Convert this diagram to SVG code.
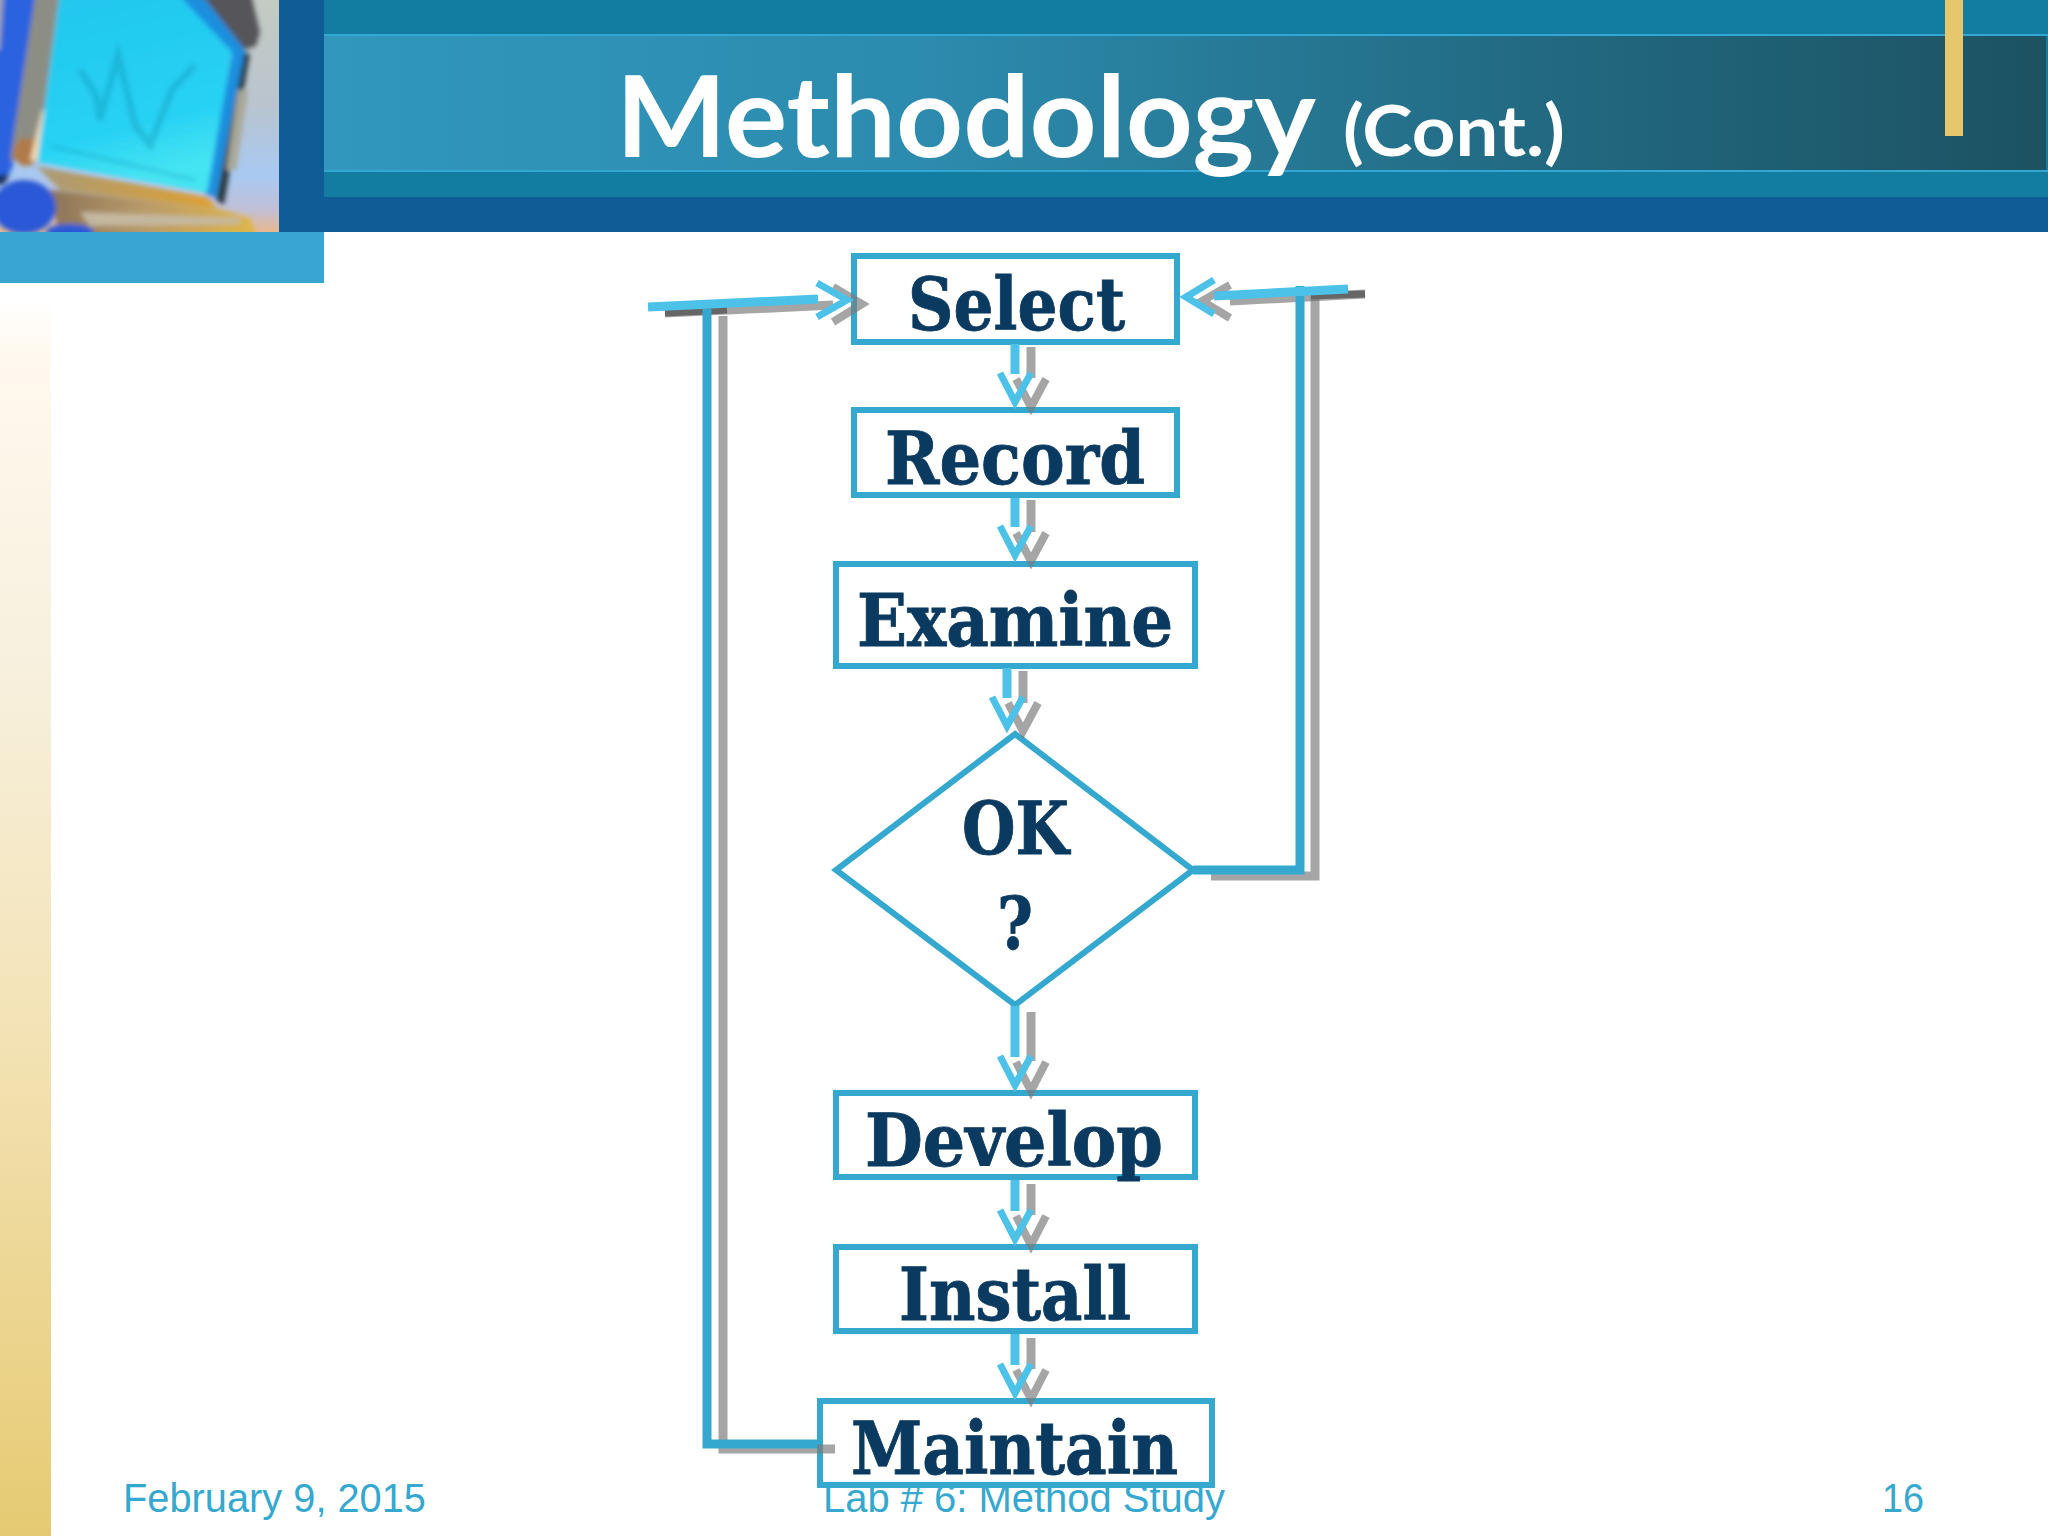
<svg xmlns="http://www.w3.org/2000/svg" width="2048" height="1536" viewBox="0 0 2048 1536">
<style>
.box{fill:#fff;stroke:#35a8d0;stroke-width:6}
.lbl{font-family:"DejaVu Serif Condensed","DejaVu Serif",serif;font-weight:700;font-size:73px;fill:#0a3a60;stroke:#0a3a60;stroke-width:.8}
.foot{font-family:"Liberation Sans",sans-serif;font-size:40px;fill:#35a8d0}
.ttl{font-family:"Lato",sans-serif;font-weight:700;fill:#fff}
.s{fill:none;stroke:#7a7a7a;stroke-opacity:.68;stroke-width:9}
.sh{fill:none;stroke:#7a7a7a;stroke-opacity:.68;stroke-width:8}
.b{fill:none;stroke:#4cc2e8;stroke-width:9}
.bh{fill:none;stroke:#4cc2e8;stroke-width:7}
.b2{fill:none;stroke:#35a8d0;stroke-width:9}
</style>
<defs>
<linearGradient id="panel" x1="0" x2="1" y1="0" y2="0"><stop offset="0" stop-color="#3197bd"/><stop offset=".35" stop-color="#2c8bae"/><stop offset=".7" stop-color="#226a82"/><stop offset="1" stop-color="#1c5262"/></linearGradient>
<linearGradient id="strip" x1="0" x2="0" y1="0" y2="1"><stop offset="0" stop-color="#fff"/><stop offset=".04" stop-color="#fff9f0"/><stop offset=".3" stop-color="#f7f0dd"/><stop offset=".6" stop-color="#f3e2b4"/><stop offset="1" stop-color="#e6ca72"/></linearGradient>
<linearGradient id="sky" x1="0" x2="0" y1="0" y2="1"><stop offset="0" stop-color="#c4cbc2"/><stop offset=".45" stop-color="#b9c4cf"/><stop offset=".75" stop-color="#a9c9f1"/><stop offset=".9" stop-color="#c0c0d8"/><stop offset="1" stop-color="#e8b890"/></linearGradient>
<linearGradient id="screen" x1="0" x2="0.25" y1="0" y2="1"><stop offset="0" stop-color="#20c6ee"/><stop offset=".75" stop-color="#28d2f4"/><stop offset="1" stop-color="#45e4f2"/></linearGradient>
<linearGradient id="gold" x1="0" x2="1" y1="0" y2="0"><stop offset="0" stop-color="#8c7458"/><stop offset=".45" stop-color="#b89a68"/><stop offset="1" stop-color="#e0b848"/></linearGradient>
<linearGradient id="rimg" x1="0" x2="1" y1="0" y2="0"><stop offset="0" stop-color="#a89a78"/><stop offset="1" stop-color="#e0a030"/></linearGradient>
<filter id="blur" x="-5%" y="-5%" width="110%" height="110%"><feGaussianBlur stdDeviation="2.6"/></filter>
<clipPath id="pic"><rect x="0" y="0" width="279" height="232"/></clipPath>
</defs>
<rect width="2048" height="1536" fill="#fff"/>
<rect x="0" y="300" width="51" height="1236" fill="url(#strip)"/>
<g id="header">
<rect x="0" y="0" width="2048" height="232" fill="#0f5c96"/>
<rect x="324" y="0" width="1724" height="197" fill="#137ca1"/>
<rect x="324" y="35" width="1722" height="136" fill="url(#panel)"/>
<rect x="324" y="34" width="1724" height="2" fill="#33a6d1"/>
<rect x="324" y="170" width="1724" height="2" fill="#33a6d1"/>
<rect x="1945" y="0" width="18" height="136" fill="#e6c76c"/>
<rect x="0" y="232" width="324" height="51" fill="#38a6d0"/>
</g>
<g id="laptop" clip-path="url(#pic)">
<rect width="279" height="232" fill="url(#sky)"/>
<g filter="url(#blur)">
<polygon points="-10,-10 36,-10 12,170 -10,190" fill="#2a62e0"/>
<polygon points="-10,-10 4,-10 0,50 -10,50" fill="#a0a4b0"/>
<polygon points="36,-10 66,-10 35,164 10,160" fill="#8c8e84"/>
<ellipse cx="26" cy="152" rx="12" ry="14" fill="#b07a48"/>
<polygon points="42,110 50,110 38,162 30,160" fill="#f4d8b0"/>
<polygon points="192,-10 250,-10 260,32 256,46 244,50" fill="#55555a"/>
<polygon points="244,52 250,54 224,205 216,200" fill="#2b3a40"/>
<polygon points="238,90 248,90 236,170 226,170" fill="#a8a898"/>
<polygon points="174,-10 198,-10 245,50 216,198 204,194 232,55" fill="#1b8ede"/>
<polygon points="60,-10 174,-10 232,52 207,193 37,162" fill="url(#screen)"/>
<polygon points="36,166 208,197 216,208 60,190" fill="url(#rimg)"/>
<polygon points="50,190 216,208 250,218 258,240 60,240" fill="url(#gold)"/>
<polygon points="80,212 240,218 240,224 90,226" fill="#c4b8a0"/>
<ellipse cx="24" cy="207" rx="32" ry="27" fill="#2a58d8"/>
<ellipse cx="70" cy="232" rx="24" ry="8" fill="#2a58d8"/>
<polygon points="-10,176 10,174 4,184 -10,186" fill="#18305c"/>
<path d="M80 70L96 95 L100 120 L118 55 L135 125 L150 145 L172 90 L195 65" fill="none" stroke="#1596b8" stroke-width="7" opacity=".4"/>
<path d="M50 146 L195 180" fill="none" stroke="#10a0c0" stroke-width="2" opacity=".7"/>
</g>
</g>
<g id="title">
<text class="ttl" x="616" y="157" font-size="113" textLength="700" lengthAdjust="spacingAndGlyphs">Methodology</text>
<text class="ttl" x="1343" y="156" font-size="70" textLength="222" lengthAdjust="spacingAndGlyphs">(Cont.)</text>
</g>
<g id="n-select"><rect class="box" x="854" y="256" width="323" height="86"/><text class="lbl" x="908" y="330" textLength="217" lengthAdjust="spacingAndGlyphs">Select</text></g>
<g id="n-record"><rect class="box" x="854" y="410" width="323" height="85"/><text class="lbl" x="885" y="484" textLength="260" lengthAdjust="spacingAndGlyphs">Record</text></g>
<g id="n-examine"><rect class="box" x="836" y="564" width="359" height="102"/><text class="lbl" x="857" y="646" textLength="316" lengthAdjust="spacingAndGlyphs">Examine</text></g>
<g id="n-ok"><polygon class="box" points="1015,734 1193,870 1015,1005 836,870"/><text class="lbl" x="962" y="854" textLength="107" lengthAdjust="spacingAndGlyphs">OK</text><text class="lbl" x="997" y="949" textLength="36" lengthAdjust="spacingAndGlyphs">?</text></g>
<g id="n-develop"><rect class="box" x="836" y="1093" width="359" height="84"/><text class="lbl" x="865" y="1166" textLength="298" lengthAdjust="spacingAndGlyphs">Develop</text></g>
<g id="n-install"><rect class="box" x="836" y="1247" width="359" height="84"/><text class="lbl" x="899" y="1320" textLength="232" lengthAdjust="spacingAndGlyphs">Install</text></g>
<g id="n-maintain"><rect class="box" x="820" y="1401" width="392" height="84"/><text class="lbl" x="851" y="1474" textLength="327" lengthAdjust="spacingAndGlyphs">Maintain</text></g>
<g id="connectors">
<g id="shadows">
<path class="s" d="M1031 347V378"/><path class="sh" d="M1016 379L1031 407L1046 379"/>
<path class="s" d="M1031 500V532"/><path class="sh" d="M1016 533L1031 561L1046 533"/>
<path class="s" d="M1023 671V703"/><path class="sh" d="M1008 703L1023 731L1038 703"/>
<path class="s" d="M1031 1012V1061"/><path class="sh" d="M1016 1062L1031 1091L1046 1062"/>
<path class="s" d="M1031 1184V1215"/><path class="sh" d="M1016 1216L1031 1245L1046 1216"/>
<path class="s" d="M1031 1338V1369"/><path class="sh" d="M1016 1370L1031 1399L1046 1370"/>
<path class="s" d="M835 1449H723V316"/>
<path class="s" d="M665 313L833 305"/><path class="sh" d="M833 287L862 304L833 322"/>
<path class="s" d="M1211 876H1315V296"/>
<path class="s" d="M1365 294L1230 301"/><path class="sh" d="M1230 285L1202 301L1230 318"/>
<path fill="none" stroke="#666" stroke-width="7" d="M665 313L727 310M1311 296L1365 294"/>
</g>
<path class="b2" d="M817 1444H707V309"/>
<path class="b2" d="M1193 870H1300V286"/>
<path class="b" d="M648 307L818 299"/><path class="bh" d="M817 283L847 300L817 317"/>
<path class="b" d="M1348 289L1214 296"/><path class="bh" d="M1214 280L1186 297L1214 314"/>
<path class="b" d="M1015 344V374"/><path class="bh" d="M1000 373L1015 402L1031 373"/>
<path class="b" d="M1015 498V527"/><path class="bh" d="M1000 526L1015 555L1031 526"/>
<path class="b" d="M1007 668V698"/><path class="bh" d="M992 697L1007 726L1023 697"/>
<path class="b" d="M1015 1006V1057"/><path class="bh" d="M1000 1056L1015 1085L1031 1056"/>
<path class="b" d="M1015 1180V1211"/><path class="bh" d="M1000 1210L1015 1239L1031 1210"/>
<path class="b" d="M1015 1334V1365"/><path class="bh" d="M1000 1364L1015 1393L1031 1364"/>
</g>
<g id="footer">
<text class="foot" x="123" y="1512" textLength="303" lengthAdjust="spacingAndGlyphs">February 9, 2015</text>
<text class="foot" x="823" y="1512" textLength="402" lengthAdjust="spacingAndGlyphs">Lab # 6: Method Study</text>
<text class="foot" x="1882" y="1512" textLength="42" lengthAdjust="spacingAndGlyphs">16</text>
</g>
</svg>
